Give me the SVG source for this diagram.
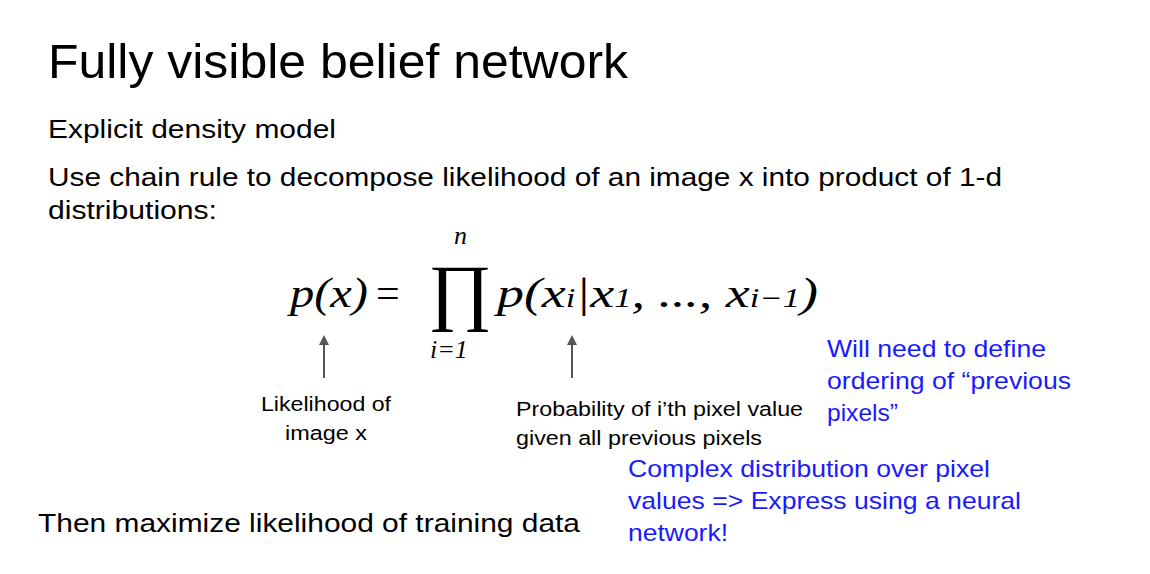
<svg xmlns="http://www.w3.org/2000/svg" width="1150" height="574" viewBox="0 0 1150 574">
<style>
.s{font-family:"Liberation Sans",Arial,sans-serif;fill:#000}
.b{font-family:"Liberation Sans",Arial,sans-serif;fill:#1a1aff;font-size:24px}
.m{font-family:"Liberation Serif","Times New Roman",serif;font-style:italic;fill:#000}
.r{font-family:"Liberation Serif","Times New Roman",serif;fill:#000}
.l{font-size:20px}
</style>
<defs><marker id="a" markerWidth="10" markerHeight="10" refX="5" refY="5" orient="auto" markerUnits="userSpaceOnUse"><path d="M0,10 L5,0 L10,10 Z" fill="#555" transform="rotate(90 5 5)"/></marker></defs>
<rect width="1150" height="574" fill="#fff"/>
<g id="title"><text class="s" x="48" y="78" font-size="48" textLength="580" lengthAdjust="spacingAndGlyphs">Fully visible belief network</text></g>
<g id="body">
<text class="s" x="48" y="138" font-size="26" textLength="288" lengthAdjust="spacingAndGlyphs">Explicit density model</text>
<text class="s" x="48" y="186" font-size="26" textLength="954" lengthAdjust="spacingAndGlyphs">Use chain rule to decompose likelihood of an image x into product of 1-d</text>
<text class="s" x="48" y="219" font-size="26" textLength="169" lengthAdjust="spacingAndGlyphs">distributions:</text>
<text class="s" x="38" y="532" font-size="26" textLength="542" lengthAdjust="spacingAndGlyphs">Then maximize likelihood of training data</text>
</g>
<g id="formula">
<text class="m" x="290" y="307" font-size="42" textLength="78" lengthAdjust="spacingAndGlyphs">p<tspan class="r">(</tspan>x<tspan class="r">)</tspan></text>
<text class="r" x="376" y="307" font-size="42">=</text>
<text class="r" x="428" y="316" font-size="74" textLength="64" lengthAdjust="spacingAndGlyphs">∏</text>
<text class="m" x="454" y="244" font-size="26">n</text>
<text class="m" x="430" y="358" font-size="26">i<tspan class="r">=1</tspan></text>
<text class="m" x="497" y="307" font-size="42" textLength="321" lengthAdjust="spacingAndGlyphs">p<tspan class="r">(</tspan>x<tspan font-size="27">i</tspan><tspan class="r">|</tspan>x<tspan class="r" font-size="27">1</tspan><tspan class="r">, ..., </tspan>x<tspan font-size="27">i<tspan class="r">−1</tspan></tspan><tspan class="r">)</tspan></text>
</g>
<g id="connectors">
<line x1="324" y1="378" x2="324" y2="340" stroke="#555" stroke-width="2" marker-end="url(#a)"/>
<line x1="572" y1="378" x2="572" y2="340" stroke="#555" stroke-width="2" marker-end="url(#a)"/>
</g>
<g id="label1"><text class="s l" x="261" y="411" textLength="130" lengthAdjust="spacingAndGlyphs">Likelihood of</text><text class="s l" x="285" y="440" textLength="82" lengthAdjust="spacingAndGlyphs">image x</text></g>
<g id="label2"><text class="s l" x="516" y="416" textLength="287" lengthAdjust="spacingAndGlyphs">Probability of i’th pixel value</text><text class="s l" x="516" y="445" textLength="246" lengthAdjust="spacingAndGlyphs">given all previous pixels</text></g>
<g id="note1"><text class="b" x="827" y="357" textLength="219" lengthAdjust="spacingAndGlyphs">Will need to define</text><text class="b" x="827" y="389" textLength="244" lengthAdjust="spacingAndGlyphs">ordering of “previous</text><text class="b" x="827" y="421" textLength="71" lengthAdjust="spacingAndGlyphs">pixels”</text></g>
<g id="note2"><text class="b" x="628" y="477" textLength="362" lengthAdjust="spacingAndGlyphs">Complex distribution over pixel</text><text class="b" x="628" y="509" textLength="393" lengthAdjust="spacingAndGlyphs">values =&gt; Express using a neural</text><text class="b" x="628" y="541" textLength="100" lengthAdjust="spacingAndGlyphs">network!</text></g>
</svg>
